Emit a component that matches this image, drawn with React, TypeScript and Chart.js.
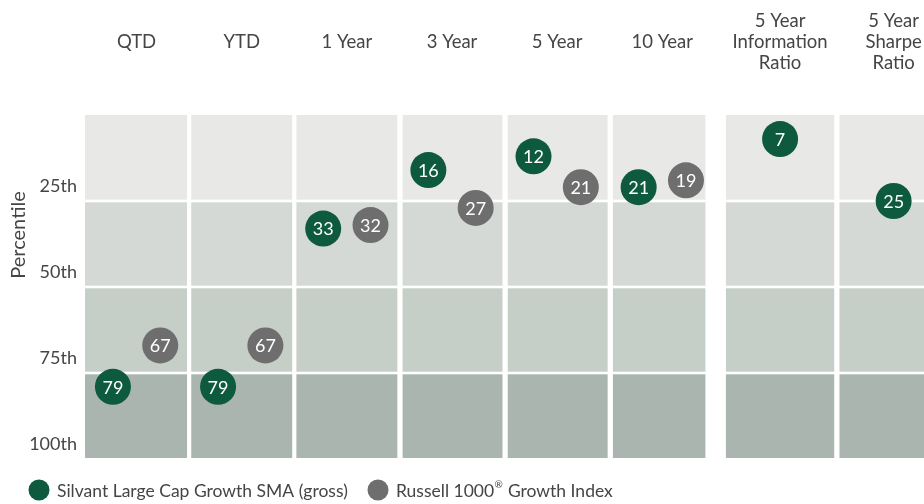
import { useEffect, useRef } from 'react';
import { Chart, registerables } from 'chart.js';

Chart.register(...registerables);

// Period / statistic columns shown across the top
const COLUMN_LABELS: string[][] = [
  ['QTD'],
  ['YTD'],
  ['1 Year'],
  ['3 Year'],
  ['5 Year'],
  ['10 Year'],
  ['5 Year', 'Information', 'Ratio'],
  ['5 Year', 'Sharpe', 'Ratio'],
];

// Percentile ranks (1 = best)
const SILVANT_RANKS: (number | null)[] = [79, 79, 33, 16, 12, 21, 7, 25];
const RUSSELL_RANKS: (number | null)[] = [67, 67, 32, 27, 21, 19, null, null];

const PERCENTILE_TICKS: number[] = [25, 50, 75, 100];

const SERIES_NAMES = ['Silvant Large Cap Growth SMA (gross)', 'Russell 1000® Growth Index'];

// Layout: column centres on the x scale (ratio columns sit after a small gap)
const COLUMN_CENTERS = [0, 1, 2, 3, 4, 5, 6.12, 7.2];
const COLUMN_LEFT = [0.49, 0.48, 0.48, 0.47, 0.47, 0.47, 0.515, 0.515];
const COLUMN_RIGHT = [0.48, 0.48, 0.48, 0.48, 0.48, 0.41, 0.515, 0.515];
const PAIR_OFFSET = 0.225;

const GREEN = '#0d5a3e';
const GREY = '#6e6e6e';
const TEXT = '#454545';
const BAND_COLORS = ['#e8e9e7', '#d4d9d5', '#c5cec7', '#a9b5ae'];
const FONT = 'Lato, "Open Sans", sans-serif';

const fontOf = (size: number) => `${size}px ${FONT}`;

const backgroundPlugin = {
  id: 'percentileBands',
  beforeDatasetsDraw(chart: any) {
    const { ctx, scales } = chart;
    const x = scales.x;
    const y = scales.y;
    ctx.save();
    COLUMN_CENTERS.forEach((c, i) => {
      const left = x.getPixelForValue(c - COLUMN_LEFT[i]);
      const right = x.getPixelForValue(c + COLUMN_RIGHT[i]);
      for (let b = 0; b < 4; b++) {
        const top = y.getPixelForValue(b * 25) + (b === 0 ? 0 : 1.3);
        const bottom = y.getPixelForValue((b + 1) * 25) - (b === 3 ? 1 : 1.3);
        ctx.fillStyle = BAND_COLORS[b];
        ctx.fillRect(left, top, right - left, bottom - top);
      }
    });
    ctx.restore();
  },
};

// Draws text, lifting any "®" into a small superscript
function drawWithMarks(ctx: CanvasRenderingContext2D, text: string, x: number, y: number, size: number) {
  const parts = text.split('®');
  let cx = x;
  parts.forEach((p, i) => {
    ctx.font = fontOf(size);
    ctx.fillText(p, cx, y);
    cx += ctx.measureText(p).width;
    if (i < parts.length - 1) {
      ctx.font = fontOf(Math.round(size * 0.55));
      ctx.fillText('®', cx + 0.5, y - size * 0.33);
      cx += ctx.measureText('®').width + 1;
    }
  });
  ctx.font = fontOf(size);
}

const textPlugin = {
  id: 'percentileText',
  afterDraw(chart: any) {
    const { ctx, scales } = chart;
    const x = scales.x;
    ctx.save();
    ctx.fillStyle = TEXT;
    ctx.textAlign = 'center';
    ctx.textBaseline = 'middle';
    ctx.font = fontOf(18.5);
    // Column headings, vertically centred on a shared middle line
    const lineH = 21;
    const mid = 42;
    COLUMN_LABELS.forEach((lines, i) => {
      const cx = x.getPixelForValue(COLUMN_CENTERS[i]);
      const start = mid - ((lines.length - 1) * lineH) / 2;
      lines.forEach((ln, k) => ctx.fillText(ln, cx, start + k * lineH));
    });

    // Axis title
    ctx.save();
    ctx.translate(19, 235);
    ctx.rotate(-Math.PI / 2);
    ctx.font = fontOf(20);
    ctx.fillText('Percentile', 0, 0);
    ctx.restore();

    // Legend
    const legendY = 490;
    const items = [
      { x: 39, color: GREEN, label: SERIES_NAMES[0] },
      { x: 378, color: GREY, label: SERIES_NAMES[1] },
    ];
    ctx.textAlign = 'left';
    items.forEach((it) => {
      ctx.fillStyle = it.color;
      ctx.beginPath();
      ctx.arc(it.x, legendY, 10.5, 0, Math.PI * 2);
      ctx.fill();
      ctx.fillStyle = TEXT;
      drawWithMarks(ctx, it.label, it.x + 18, legendY + 1, 17.5);
    });
    ctx.restore();
  },
};

const valueLabelPlugin = {
  id: 'rankLabels',
  afterDatasetsDraw(chart: any) {
    const { ctx } = chart;
    ctx.save();
    ctx.fillStyle = '#ffffff';
    ctx.textAlign = 'center';
    ctx.textBaseline = 'middle';
    ctx.font = fontOf(18);
    chart.data.datasets.forEach((ds: any, di: number) => {
      const meta = chart.getDatasetMeta(di);
      meta.data.forEach((el: any, k: number) => {
        const raw = ds.data[k];
        if (!raw) return;
        ctx.fillText(String(raw.y), el.x, el.y + 1);
      });
    });
    ctx.restore();
  },
};

function buildPoints(values: (number | null)[], other: (number | null)[], side: number) {
  const pts: { x: number; y: number }[] = [];
  values.forEach((v, i) => {
    if (v == null) return;
    const paired = other[i] != null;
    pts.push({ x: COLUMN_CENTERS[i] + (paired ? side * PAIR_OFFSET : 0), y: v });
  });
  return pts;
}

export default function App() {
  const canvasRef = useRef<HTMLCanvasElement | null>(null);

  useEffect(() => {
    const canvas = canvasRef.current;
    if (!canvas) return;
    const chart = new Chart(canvas, {
      type: 'scatter',
      data: {
        datasets: [
          {
            label: SERIES_NAMES[0],
            data: buildPoints(SILVANT_RANKS, RUSSELL_RANKS, -1),
            backgroundColor: GREEN,
            borderWidth: 0,
            pointRadius: 18,
            pointHoverRadius: 18,
          },
          {
            label: SERIES_NAMES[1],
            data: buildPoints(RUSSELL_RANKS, SILVANT_RANKS, 1),
            backgroundColor: GREY,
            borderWidth: 0,
            pointRadius: 18,
            pointHoverRadius: 18,
          },
        ],
      },
      options: {
        responsive: false,
        devicePixelRatio: 1,
        animation: false,
        events: [],
        layout: { padding: { left: 0, top: 115, right: 4, bottom: 45 } },
        plugins: {
          legend: { display: false },
          tooltip: { enabled: false },
        },
        scales: {
          x: {
            type: 'linear',
            min: -0.5,
            max: 7.66,
            display: false,
          },
          y: {
            type: 'linear',
            min: 0,
            max: 100,
            reverse: true,
            afterFit: (scale: any) => {
              scale.width = 84;
            },
            afterBuildTicks: (scale: any) => {
              scale.ticks = PERCENTILE_TICKS.map((v) => ({ value: v }));
            },
            grid: { display: false, drawTicks: false },
            border: { display: false },
            ticks: {
              padding: 7,
              labelOffset: -15,
              color: TEXT,
              font: { family: FONT, size: 18 },
              callback: (v: any) => `${v}th`,
            },
          },
        },
      },
      plugins: [backgroundPlugin, valueLabelPlugin, textPlugin],
    });
    return () => chart.destroy();
  }, []);

  return (
    <div
      style={{
        position: 'fixed',
        left: 0,
        top: 0,
        width: 924,
        height: 504,
        overflow: 'hidden',
        background: '#ffffff',
      }}
    >
      <canvas ref={canvasRef} width={960} height={504} style={{ display: 'block', width: 960, height: 504 }} />
    </div>
  );
}
